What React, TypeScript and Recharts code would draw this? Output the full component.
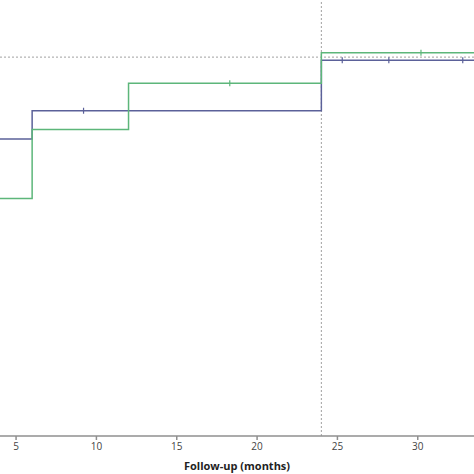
import { ComposedChart, Line, Scatter, XAxis, YAxis, ReferenceLine, Label } from "recharts";

// step points of the two cumulative curves (month, %)
const blueSteps = [
  { month: 3, value: 68.1 },
  { month: 6, value: 74.6 },
  { month: 24, value: 86.2 },
  { month: 34, value: 86.2 },
];
const greenSteps = [
  { month: 3, value: 54.5 },
  { month: 6, value: 70.3 },
  { month: 12, value: 80.9 },
  { month: 24, value: 87.9 },
  { month: 34, value: 87.9 },
];
// censoring marks
const blueCensored = [
  { month: 9.2, value: 74.6 },
  { month: 25.3, value: 86.2 },
  { month: 28.2, value: 86.2 },
  { month: 32.8, value: 86.2 },
];
const greenCensored = [
  { month: 18.3, value: 80.9 },
  { month: 30.2, value: 87.9 },
];
const xTicks = [5, 10, 15, 20, 25, 30];
const refLevel = 86.9;
const refMonth = 24;

const BLUE = "#5b6199";
const GREEN = "#5db67a";

const censorShape = (color: string) => (props: any) => (
  <line x1={props.cx} x2={props.cx} y1={props.cy - 3} y2={props.cy + 3} stroke={color} strokeWidth={1.2} />
);

export default function App() {
  return (
    <div style={{ position: "absolute", left: 0, top: 0 }}>
      <style>{"body{margin:0}"}</style>
      <ComposedChart width={474} height={474} margin={{ top: 0, right: 0, left: 0, bottom: 0 }} style={{ fontFamily: "'Open Sans', sans-serif" }}>
        <XAxis
          type="number"
          dataKey="month"
          domain={[4, 33.5]}
          ticks={xTicks}
          allowDataOverflow
          height={38}
          stroke="#8f8f8f"
          strokeWidth={1.5}
          tickSize={4}
          tickMargin={3}
          tick={{ fontSize: 10, fill: "#444" }}
        >
          <Label value="Follow-up (months)" position="insideBottom" offset={4} style={{ fontSize: 11, fontWeight: 700, fill: "#222" }} />
        </XAxis>
        <YAxis type="number" domain={[0, 100]} hide />
        <ReferenceLine y={refLevel} stroke="#a0a0a0" strokeDasharray="2 2" />
        <ReferenceLine x={refMonth} stroke="#a0a0a0" strokeDasharray="2 2" />
        <Line data={blueSteps} dataKey="value" type="stepAfter" stroke={BLUE} strokeWidth={1.5} dot={false} activeDot={false} isAnimationActive={false} />
        <Line data={greenSteps} dataKey="value" type="stepAfter" stroke={GREEN} strokeWidth={1.5} dot={false} activeDot={false} isAnimationActive={false} />
        <Scatter data={blueCensored} dataKey="value" shape={censorShape(BLUE)} isAnimationActive={false} />
        <Scatter data={greenCensored} dataKey="value" shape={censorShape(GREEN)} isAnimationActive={false} />
      </ComposedChart>
    </div>
  );
}
